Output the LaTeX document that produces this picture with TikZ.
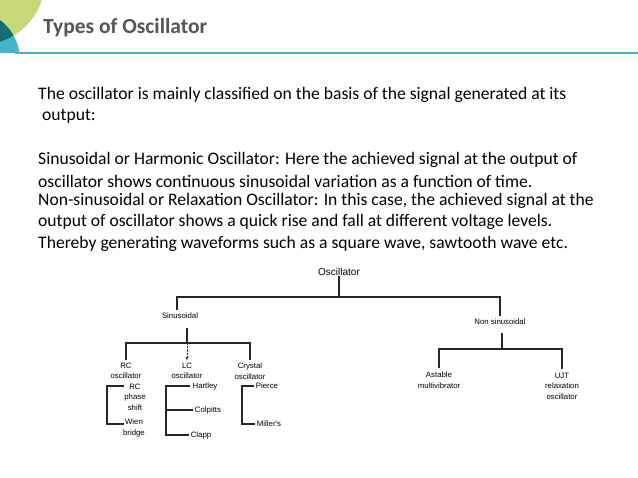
\documentclass[tikz,border=0pt]{standalone}
\usepackage{fontspec}
\usetikzlibrary{calc}
\setmainfont{Carlito}
\newfontfamily\dfont{Liberation Sans}
\definecolor{lgreen}{RGB}{200,218,120}
\definecolor{dteal}{RGB}{20,110,120}
\definecolor{lblue}{RGB}{70,180,200}
\definecolor{titlegray}{RGB}{85,85,85}
\begin{document}
\begin{tikzpicture}[x=1pt,y=-1pt,
  body/.style={anchor=west,inner sep=0pt,font=\fontsize{17.6}{20}\selectfont},
  lbl/.style={inner sep=0pt,align=center,font=\dfont\fontsize{7.8}{10.5}\selectfont},
  ln/.style={line width=1.2pt,black!85}]
\useasboundingbox (0,0) rectangle (638,478);
\begin{scope}
\clip (0,0) rectangle (638,53);
\fill[lblue] (-30,60) circle (50);
\fill[lgreen] (-20,-20) circle (65);
\begin{scope}
\clip (-20,-20) circle (65);
\fill[dteal] (-30,60) circle (50);
\end{scope}
\end{scope}
\draw[lblue,line width=1.5pt] (15,53) -- (638,53);
\node[anchor=west,inner sep=0pt,text=titlegray,font=\fontsize{21.5}{24}\selectfont\bfseries] (title) at (43,28) {Types of Oscillator};
\node[body] (l1) at (38,95) {The oscillator is mainly classified on the basis of the signal generated at its};
\node[body] (l2) at (38,116) {\ output:};
\node[body] (l3) at (38,160) {Sinusoidal or Harmonic Oscillator: Here the achieved signal at the output of};
\node[body] (l4) at (38,181) {oscillator shows continuous sinusoidal variation as a function of time.};
\node[body] (l5) at (38,201) {Non-sinusoidal or Relaxation Oscillator: In this case, the achieved signal at the};
\node[body] (l6) at (38,222) {output of oscillator shows a quick rise and fall at different voltage levels.};
\node[body] (l7) at (38,244) {Thereby generating waveforms such as a square wave, sawtooth wave etc.};
% diagram
\node[lbl,font=\dfont\fontsize{10}{12}\selectfont] (osc) at (339,272) {Oscillator};
\node[lbl] (sin) at (180,316) {Sinusoidal};
\node[lbl] (non) at (500,322) {Non sinusoidal};
\node[lbl] (rc) at (126,371) {RC\\oscillator};
\node[lbl] (lc) at (187,371) {LC\\oscillator};
\node[lbl] (cr) at (250,371) {Crystal\\oscillator};
\node[lbl] (rcp) at (135,397) {RC\\phase\\shift};
\node[lbl] (wb) at (134,428) {Wien\\bridge};
\node[lbl] (har) at (205,386) {Hartley};
\node[lbl] (col) at (208,410) {Colpitts};
\node[lbl] (cla) at (201,435) {Clapp};
\node[lbl] (pie) at (267,386) {Pierce};
\node[lbl] (mil) at (269,424) {Miller's};
\node[lbl] (ast) at (439,380) {Astable\\multivibrator};
\node[lbl] (ujt) at (562,386) {UJT\\relaxation\\oscillator};
\draw[ln] (osc.south) -- (339,297);
\draw[ln] ($(sin.north)+(-3,-3)$) |- (339,297) -| ($(non.north)+(0,-3)$);
\draw[ln] (187,328) -- (187,343);
\draw[ln] ($(rc.north)+(0,-3)$) |- (187,343) -| ($(cr.north)+(0,-3)$);
\draw[densely dotted,-latex,black!80] (187,343) -- ($(lc.north)+(0,-2)$);
\draw[ln] (124,386) -- (107,386) -- (107,424) -- (124,424);
\draw[ln] ($(har.west)+(-2,0)$) -- (166,386) -- (166,435) -- ($(cla.west)+(-2,0)$);
\draw[ln] (166,410) -- ($(col.west)+(-2,0)$);
\draw[ln] ($(pie.west)+(-2,0)$) -- (242,386) -- (242,424) -- ($(mil.west)+(-2,0)$);
\draw[ln] (502,333) -- (502,349);
\draw[ln] ($(ast.north)+(0,-4)$) |- (502,349) -| ($(ujt.north)+(0,-4)$);
\end{tikzpicture}
\end{document}
